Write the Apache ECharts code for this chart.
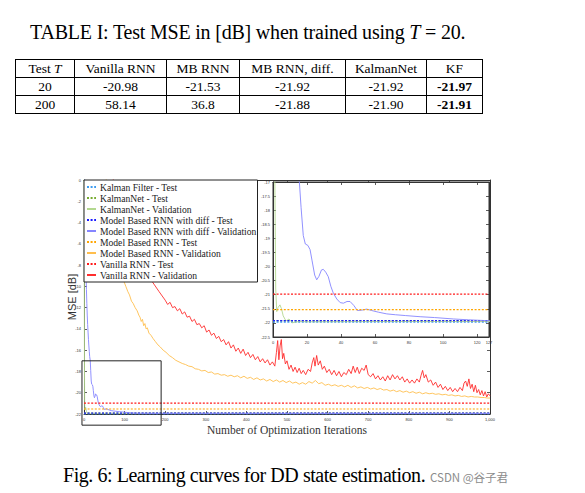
<!DOCTYPE html>
<html><head><meta charset="utf-8">
<script src="https://cdn.jsdelivr.net/npm/echarts@6/dist/echarts.min.js"></script>
<style>
html,body{margin:0;padding:0;background:#fff;}
#wrap{position:relative;width:585px;height:493px;overflow:hidden;background:#fff;}
#chart{position:absolute;left:0;top:0;width:585px;height:493px;}
.txt{position:absolute;font-family:"Liberation Serif","Times New Roman",serif;color:#000;white-space:nowrap;pointer-events:none;}
#title{left:30px;top:22px;font-size:20px;line-height:21px;letter-spacing:-0.2px;}
#caption{left:63px;top:465px;font-size:20px;line-height:21px;letter-spacing:-0.45px;}
#wm{left:430px;top:469px;font-family:"Noto Sans CJK SC","Noto Sans",sans-serif;font-size:11.5px;line-height:16px;color:#8c8c8c;}
table{position:absolute;left:15px;top:59px;border-collapse:collapse;table-layout:fixed;font-family:"Liberation Serif","Times New Roman",serif;font-size:13.5px;}
td{border:1px solid #000;text-align:center;padding:0;height:17px;line-height:16px;}
tr:first-child td{border-top:1.5px solid #000;}
tr:last-child td{border-bottom:1.5px solid #000;}
</style></head>
<body><div id="wrap">
<div id="chart"></div>
<div id="title" class="txt">TABLE I: Test MSE in [dB] when trained using <i>T</i> = 20.</div>
<table id="tbl"></table>
<div id="caption" class="txt">Fig. 6: Learning curves for DD state estimation.</div>
<div id="wm" class="txt">CSDN @谷子君</div>
</div>
<script>
// ---------- table data ----------
const tableHeader = ['Test <i>T</i>', 'Vanilla RNN', 'MB RNN', 'MB RNN, diff.', 'KalmanNet', 'KF'];
const tableRow20 = ['20', '-20.98', '-21.53', '-21.92', '-21.92', '-21.97'];
const tableRow200 = ['200', '58.14', '36.8', '-21.88', '-21.90', '-21.91'];
const colWidths = [59, 92, 73, 106, 81, 56];

// ---------- chart data ----------
const seriesNames = [
  'Kalman Filter - Test', 'KalmanNet - Test', 'KalmanNet - Validation',
  'Model Based RNN with diff - Test', 'Model Based RNN with diff - Validation',
  'Model Based RNN - Test', 'Model Based RNN - Validation',
  'Vanilla RNN - Test', 'Vanilla RNN - Validation'
];
const kfTest = -21.97;
const knTest = -21.92;
const mbDiffTest = -21.92;
const mbTest = -21.53;
const vanillaTest = -20.98;

const knVal = [[0,10],[0.6,-8],[1.1,-17],[1.6,-20.8],[2.2,-21.6],[3,-21.45],[4.1,-21.36],[5,-21.5],[6,-21.75],[7.6,-21.93],[8.5,-21.9],[9.4,-21.86],[10.4,-21.93],[11.4,-22.0],[13,-21.97],[16,-21.95],[20,-21.96],[60,-21.95],[200,-21.95],[500,-21.95],[1000,-21.95]];

const mbDiffVal = [[0,8],[1,4],[2,0],[3,-3],[4,-6],[5,-8.5],[6,-10.3],[7,-11.6],[8,-12.7],[9,-13.6],[10,-14.3],[11,-15],[12,-15.6],[13,-16.1],[14,-16.6],[15.5,-17.0],[16.5,-17.9],[17.8,-18.9],[19,-19.2],[20.5,-19.25],[21.8,-19.4],[23,-19.8],[24.5,-20.3],[25.7,-20.47],[27,-20.35],[28.5,-20.12],[29.6,-20.10],[31,-20.2],[32.5,-20.36],[34,-20.7],[35.5,-20.95],[37.5,-21.15],[39.5,-21.28],[41.4,-21.30],[43.5,-21.24],[45.3,-21.24],[47.5,-21.38],[49.6,-21.56],[52,-21.55],[55.1,-21.51],[58,-21.56],[62,-21.62],[66.9,-21.68],[72,-21.71],[78,-21.74],[86.5,-21.78],[95,-21.81],[106,-21.86],[115,-21.89],[125.7,-21.92],[140,-21.93],[170,-21.94],[300,-21.94],[600,-21.95],[1000,-21.95]];

const mbVal = [[40,3],[55,0],[70,-3.5],[83,-6.5],[92,-8.4],[97,-9.4],[103,-10.0],[108,-10.5],[112,-10.8],[117,-11.4],[121,-11.6],[126,-12.0],[131,-12.3],[135,-12.7],[138,-12.9],[141,-13.3],[144,-13.1],[147,-13.7],[150,-13.5],[153,-14.0],[156,-13.9],[160,-14.4],[165,-14.6],[170,-14.9],[176,-15.2],[182,-15.5],[188,-15.7],[195,-16.0],[202,-16.2],[210,-16.5],[218,-16.7],[226,-16.95],[234,-17.1],[242,-17.25],[250,-17.35],[258,-17.5],[266,-17.55],[274,-17.75],[282,-17.8],[290,-17.95],[298,-17.9],[306,-18.1],[314,-18.05],[322,-18.25],[330,-18.2],[338,-18.35],[346,-18.3],[354,-18.45],[362,-18.35],[370,-18.5],[378,-18.4],[386,-18.6],[394,-18.45],[402,-18.65],[410,-18.55],[418,-18.75],[426,-18.6],[434,-18.8],[442,-18.7],[450,-18.9],[458,-18.75],[466,-18.95],[474,-18.8],[482,-19.0],[490,-18.85],[498,-19.05],[506,-18.9],[514,-19.1],[522,-19.0],[530,-19.2],[538,-19.05],[546,-19.2],[554,-18.95],[562,-19.1],[570,-18.85],[578,-19.15],[586,-19.05],[594,-19.3],[602,-19.2],[610,-19.35],[618,-19.25],[626,-19.4],[634,-19.3],[642,-19.45],[650,-19.3],[658,-19.5],[666,-19.35],[674,-19.55],[682,-19.45],[690,-19.6],[698,-19.5],[706,-19.65],[714,-19.55],[722,-19.7],[730,-19.6],[738,-19.75],[746,-19.7],[754,-19.85],[762,-19.75],[770,-19.9],[778,-19.8],[786,-19.95],[794,-19.85],[802,-20.0],[810,-19.9],[818,-20.05],[826,-19.95],[834,-20.1],[842,-20.0],[850,-20.1],[858,-20.05],[866,-20.15],[874,-20.1],[882,-20.2],[890,-20.15],[898,-20.25],[906,-20.2],[914,-20.3],[922,-20.25],[930,-20.35],[938,-20.3],[946,-20.4],[954,-20.35],[962,-20.4],[970,-20.4],[978,-20.45],[986,-20.45],[994,-20.5],[1000,-20.5]];

const vanillaVal = [[50,3],[80,-1],[110,-4.5],[140,-7.5],[167,-9.5],[185,-10.5],[200,-11.3],[206,-11.7],[212,-11.5],[218,-12.0],[224,-11.9],[230,-12.3],[236,-12.1],[242,-12.6],[248,-12.4],[254,-12.9],[260,-12.8],[266,-13.3],[272,-13.1],[278,-13.6],[284,-13.5],[290,-13.9],[296,-13.7],[302,-14.3],[308,-14.1],[314,-14.6],[320,-14.4],[326,-14.9],[332,-14.7],[338,-15.2],[344,-15.0],[350,-15.5],[356,-15.2],[362,-15.8],[368,-15.5],[374,-16.1],[380,-15.8],[386,-16.3],[392,-15.9],[398,-16.5],[404,-16.2],[410,-16.7],[416,-16.4],[422,-16.9],[428,-16.6],[434,-17.1],[440,-16.8],[446,-17.2],[452,-16.9],[458,-17.4],[464,-17.1],[470,-17.5],[474,-16.2],[477,-15.1],[480,-16.9],[483,-15.6],[486,-15.0],[489,-16.8],[492,-16.3],[496,-17.3],[500,-17.0],[505,-17.8],[510,-17.4],[515,-18.0],[520,-17.6],[525,-18.1],[530,-17.7],[535,-18.2],[540,-17.9],[546,-18.3],[552,-17.8],[558,-18.0],[562,-17.2],[566,-16.7],[569,-17.5],[573,-16.5],[577,-17.4],[582,-17.0],[587,-17.8],[592,-17.5],[598,-18.1],[604,-17.8],[610,-18.3],[616,-17.9],[622,-18.4],[628,-18.0],[634,-18.5],[640,-18.1],[646,-18.3],[652,-17.8],[658,-18.2],[663,-17.5],[668,-18.1],[673,-17.6],[678,-18.2],[684,-17.7],[690,-17.9],[695,-17.4],[700,-18.3],[706,-18.5],[712,-18.2],[718,-18.7],[724,-18.4],[730,-18.8],[736,-18.5],[742,-18.9],[748,-18.4],[754,-18.8],[760,-18.3],[766,-18.7],[772,-18.4],[778,-18.8],[784,-18.5],[790,-19.0],[796,-18.7],[802,-19.1],[808,-18.8],[814,-19.1],[820,-18.7],[826,-19.0],[830,-18.4],[834,-17.9],[838,-18.6],[842,-18.3],[848,-19.0],[854,-18.8],[860,-19.3],[866,-19.0],[872,-19.5],[878,-19.2],[884,-19.7],[890,-19.4],[896,-19.8],[902,-19.5],[908,-19.9],[914,-19.6],[920,-19.9],[926,-19.5],[932,-19.8],[936,-19.1],[940,-18.9],[944,-19.4],[948,-18.7],[952,-19.6],[956,-19.2],[960,-19.9],[964,-19.3],[968,-20.0],[972,-19.7],[976,-20.2],[980,-19.8],[984,-20.3],[988,-19.9],[992,-20.4],[996,-20.1],[1000,-20.3]];

const mainXTicks = {min: 0, max: 1000, interval: 100};
const mainYTicks = {min: -22, max: 0, interval: 2};
const insetXTicks = {min: 0, max: 127, interval: 20};
const insetYTicks = {min: -22.5, max: -17, interval: 0.5};
const zoomBox = {x0: -5, x1: 190, y0: -17, y1: -23.05};

// ---------- table build ----------
(function(){
  const t = document.getElementById('tbl');
  const cg = document.createElement('colgroup');
  colWidths.forEach(w => { const c = document.createElement('col'); c.style.width = w + 'px'; cg.appendChild(c); });
  t.appendChild(cg);
  [tableHeader, tableRow20, tableRow200].forEach(row => {
    const tr = document.createElement('tr');
    row.forEach((v, i) => {
      const td = document.createElement('td');
      td.innerHTML = (i === 5 && row !== tableHeader) ? '<b>' + v + '</b>' : v;
      tr.appendChild(td);
    });
    t.appendChild(tr);
  });
})();

// ---------- chart ----------
const colors = {
  kfT: '#3d9cf0', knT: '#77ac30', knV: '#b3d88f', mdT: '#1a1aff', mdV: '#8585ff',
  mbT: '#ffa500', mbV: '#ffbe4d', vaT: '#ff1a1a', vaV: '#ff2e2e'
};
const dotted = [2, 1.6];
function hline(v, xmax){ return [[0, v], [xmax, v]]; }

function makeSeries(xi, yi, xmax, z){
  const defs = [
    [seriesNames[0], hline(kfTest, xmax), colors.kfT, dotted, 1.4],
    [seriesNames[1], hline(knTest, xmax), colors.knT, dotted, 1.4],
    [seriesNames[2], knVal, colors.knV, 'solid', 0.9],
    [seriesNames[3], hline(mbDiffTest, xmax), colors.mdT, dotted, 1.4],
    [seriesNames[4], mbDiffVal, colors.mdV, 'solid', 0.9],
    [seriesNames[5], hline(mbTest, xmax), colors.mbT, dotted, 1.2],
    [seriesNames[6], mbVal, colors.mbV, 'solid', 0.9],
    [seriesNames[7], hline(vanillaTest, xmax), colors.vaT, dotted, 1.2],
    [seriesNames[8], vanillaVal, colors.vaV, 'solid', 0.9]
  ];
  return defs.map(d => ({
    type: 'line', name: d[0], data: d[1], xAxisIndex: xi, yAxisIndex: yi,
    showSymbol: false, symbol: 'none', smooth: false, clip: true, z: z,
    lineStyle: {color: d[2], type: d[3], width: d[4]}, itemStyle: {color: d[2]},
    emphasis: {disabled: true}
  }));
}

const axisCol = '#333';
function xAx(grid, ticks, pos, labels, z, extra){
  return Object.assign({
    type: 'value', gridIndex: grid, position: pos, min: ticks.min, max: ticks.max, interval: ticks.interval, z: z,
    axisLine: {show: true, onZero: false, lineStyle: {color: axisCol, width: 1}},
    axisTick: {show: true, inside: true, length: 3, lineStyle: {color: axisCol, width: 0.8}},
    axisLabel: {show: labels, fontSize: 4, margin: 3, color: axisCol, fontFamily: 'Liberation Sans'},
    splitLine: {show: false}
  }, extra || {});
}

const option = {
  animation: false,
  backgroundColor: 'transparent',
  grid: [
    {left: 84, top: 180, width: 406, height: 234, show: false},
    {left: 273, top: 182, width: 216, height: 155, show: true, backgroundColor: '#fff', borderColor: axisCol, borderWidth: 1, z: 10}
  ],
  legend: {
    show: true, orient: 'vertical', left: 84, top: 180, data: seriesNames,
    backgroundColor: '#fff', borderColor: '#222', borderWidth: 1, padding: [2, 1, 2, 2],
    itemWidth: 9, itemHeight: 6, itemGap: 1.0, selectedMode: false, z: 6,
    itemStyle: {opacity: 0},
    textStyle: {fontFamily: 'Liberation Serif', fontSize: 9.6, color: '#222', padding: [0, 0, 0, -1]}
  },
  xAxis: [
    xAx(0, mainXTicks, 'bottom', true, 1, {name: 'Number of Optimization Iterations', nameLocation: 'middle', nameGap: 10,
      nameMoveOverlap: false,
      nameTextStyle: {fontFamily: 'Liberation Serif', fontSize: 11.5, color: '#333'}}),
    xAx(0, mainXTicks, 'top', false, 1),
    xAx(1, insetXTicks, 'bottom', true, 11),
    xAx(1, insetXTicks, 'top', false, 11)
  ],
  yAxis: [
    xAx(0, mainYTicks, 'left', true, 1, {name: 'MSE [dB]', nameLocation: 'middle', nameGap: 7, nameRotate: 90,
      nameMoveOverlap: false,
      nameTextStyle: {fontFamily: 'Liberation Sans', fontSize: 11, color: '#333'}}),
    xAx(0, mainYTicks, 'right', false, 1),
    xAx(1, insetYTicks, 'left', true, 11),
    xAx(1, insetYTicks, 'right', false, 11)
  ],
  series: makeSeries(0, 0, mainXTicks.max, 2).concat(makeSeries(2, 2, insetXTicks.max, 12))
};

const chart = echarts.init(document.getElementById('chart'), null, {renderer: 'svg', width: 585, height: 493});
chart.setOption(option);
const p0 = chart.convertToPixel({xAxisIndex: 0, yAxisIndex: 0}, [zoomBox.x0, zoomBox.y0]);
const p1 = chart.convertToPixel({xAxisIndex: 0, yAxisIndex: 0}, [zoomBox.x1, zoomBox.y1]);
chart.setOption({graphic: {elements: [{
  type: 'rect', z: 5, silent: true,
  shape: {x: p0[0], y: p0[1], width: p1[0] - p0[0], height: p1[1] - p0[1]},
  style: {fill: 'none', stroke: '#222', lineWidth: 1}
}]}});
</script>
</body></html>
